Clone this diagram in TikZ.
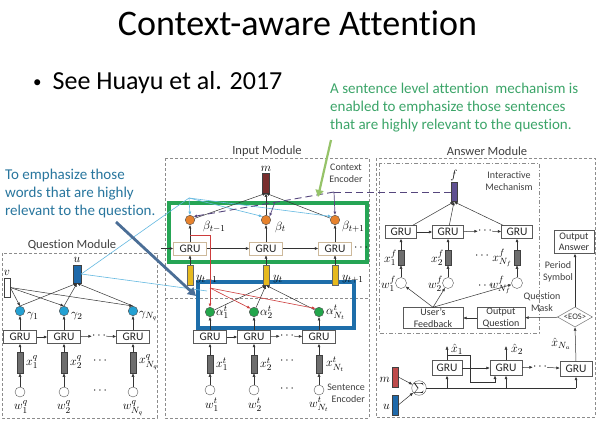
\documentclass[tikz,border=0pt]{standalone}
\usepackage{fontspec}
\setmainfont{Carlito}[Ligatures=NoCommon]
\usetikzlibrary{arrows.meta,shapes.geometric,calc}
\definecolor{gboxc}{RGB}{38,165,85}
\definecolor{bboxc}{RGB}{30,110,170}
\definecolor{gtext}{RGB}{60,165,105}
\definecolor{btext}{RGB}{40,118,158}
\definecolor{barrow}{RGB}{75,110,150}
\definecolor{garrow}{RGB}{150,195,105}
\definecolor{lblue}{RGB}{100,185,225}
\definecolor{redl}{RGB}{205,60,60}
\definecolor{purl}{RGB}{85,70,125}
\definecolor{gammac}{RGB}{35,160,210}
\definecolor{betac}{RGB}{230,130,45}
\definecolor{alphac}{RGB}{35,165,75}
\definecolor{goldc}{RGB}{230,185,30}
\definecolor{greyc}{RGB}{110,110,110}
\definecolor{maroonc}{RGB}{120,45,45}
\definecolor{redv}{RGB}{190,75,75}
\definecolor{bluev}{RGB}{30,105,170}
\definecolor{purv}{RGB}{95,80,145}
\definecolor{beige}{RGB}{205,185,155}
\begin{document}
\begin{tikzpicture}[x=1pt,y=-1pt,
  arr/.style={-{Latex[length=3.5pt,width=3pt]}, line width=0.5pt, draw=black!80},
  modbox/.style={draw=black!45, dash pattern=on 3pt off 2pt, line width=0.6pt},
  gru/.style={draw=black!65, fill=white, minimum width=33pt, minimum height=13pt, inner sep=0pt, font=\fontsize{11.5}{11.5}\selectfont, text=black!85},
  grubeige/.style={gru, draw=beige},
  vecbox/.style={draw=black!75, line width=0.5pt, minimum width=6pt, minimum height=20pt, inner sep=0pt},
  attc/.style={circle, draw=black!70, line width=0.4pt, minimum size=9.5pt, inner sep=0pt},
  wc/.style={circle, draw=black!65, fill=white, minimum size=10pt, inner sep=0pt},
  ml/.style={font=\fontsize{12.5}{12.5}\selectfont, inner sep=0pt},
  smalltxt/.style={font=\fontsize{10}{12}\selectfont, align=center, text=black!75, inner sep=0pt},
  modlab/.style={font=\fontsize{12.5}{12.5}\selectfont, text=black!75, inner sep=0pt},
  boxtxt/.style={draw=black!65, fill=white, font=\fontsize{10}{11.5}\selectfont, align=center, inner sep=0pt, text=black!80},
  gtxt/.style={font=\fontsize{15}{15}\selectfont, text=gtext, inner sep=0pt, anchor=base west},
  btxt/.style={font=\fontsize{15}{15}\selectfont, text=btext, inner sep=0pt, anchor=base west},
]
\useasboundingbox (0,0) rectangle (600,423);
\fill[white] (0,0) rectangle (600,423);

% ---------- title and texts
\node[font=\fontsize{36}{38}\selectfont, anchor=base, inner sep=0pt] (title) at (297.5,35) {Context-aware Attention};
\node[font=\fontsize{26}{28}\selectfont, anchor=base west, inner sep=0pt] (bul) at (33,89) {{\fontsize{17}{17}\selectfont\raisebox{2pt}{•}}\hspace{11pt}See Huayu et al. 2017};
\node[gtxt] (gt1) at (330,93) {A sentence level attention\ \ mechanism is};
\node[gtxt] (gt2) at (330,111) {enabled to emphasize those sentences};
\node[gtxt] (gt3) at (330,129) {that are highly relevant to the question.};
\node[btxt] (bt1) at (5,179) {To emphasize those};
\node[btxt] (bt2) at (5,197) {words that are highly};
\node[btxt] (bt3) at (5,215) {relevant to the question.};

% ---------- module frames
\node[modlab] (qml) at (72,245) {Question Module};
\draw[modbox] (2,253) rectangle (157,418);
\node[modlab] (iml) at (267,151) {Input Module};
\draw[modbox] (165,158) rectangle (369,418);
\draw[modbox] (165,298) -- (369,298);
\node[modlab] (aml) at (487,151) {Answer Module};
\draw[modbox] (376,158) rectangle (595,417);
\draw[draw=black!45, dash pattern=on 4pt off 2pt on 1pt off 2pt, line width=0.6pt] (379,163) rectangle (539,333);
\node[smalltxt] (cel) at (346,173) {Context\\Encoder};
\node[smalltxt, align=right, anchor=east] (sel) at (365,393) {Sentence\\Encoder};
\node[smalltxt] (imech) at (509,181) {Interactive\\Mechanism};

% ---------- highlight boxes
\draw[gboxc, line width=3.5pt] (169,203) rectangle (367,262);
\draw[bboxc, line width=3.5pt] (198,282) rectangle (354,328);

% ---------- question module
\node[vecbox, fill=white, minimum height=19pt] (v) at (7,287.5) {};
\node[ml, anchor=south] (vl) at (7,276) {$v$};
\node[vecbox, fill=bluev, minimum width=8pt, minimum height=18pt] (uq) at (77,274) {};
\node[ml, anchor=south] (uql) at (77,263) {$u$};
\foreach \i/\x in {1/20,2/64,3/133} {
  \node[attc, fill=gammac] (g\i) at (\x,311) {};
  \node[gru] (qg\i) at (\x,337) {GRU};
  \node[vecbox, fill=greyc, minimum height=21pt] (qx\i) at (\x,362.5) {};
  \node[wc] (qw\i) at (\x,392) {};
  \draw[arr] (qw\i) -- (qx\i);
  \draw[arr] (qx\i) -- (qg\i);
  \draw[arr] (qg\i) -- (g\i);
  \draw[arr] (v.east) -- (g\i.north);
  \draw[arr] (g\i.north) -- (uq.south);
}
\node[ml, anchor=west] (gl1) at (27,316) {$\gamma_1$};
\node[ml, anchor=west] (gl2) at (71,316) {$\gamma_2$};
\node[ml, anchor=west] (gl3) at (139,316) {$\gamma_{N_q}$};
\node[ml, anchor=west] (qxl1) at (26,362) {$x_1^q$};
\node[ml, anchor=west] (qxl2) at (70,362) {$x_2^q$};
\node[ml, anchor=west] (qxl3) at (139,362) {$x_{N_q}^q$};
\node[ml, anchor=north] (qwl1) at (21,400) {$w_1^q$};
\node[ml, anchor=north] (qwl2) at (64,400) {$w_2^q$};
\node[ml, anchor=north] (qwl3) at (133,400) {$w_{N_q}^q$};
\node[ml] (qd1) at (99,336) {$\cdots$};
\node[ml] (qd2) at (100,361) {$\cdots$};
\node[ml] (qd3) at (100,391) {$\cdots$};
\draw[arr] (qg1) -- (qg2);
\draw[arr] (qg2) -- (qd1);
\draw[arr] (qd1) -- (qg3);

% ---------- input module: context encoder
\node[vecbox, fill=maroonc, minimum width=7pt] (mc) at (266,183) {};
\node[ml, anchor=south] (mcl) at (266,172) {$m$};
\foreach \i/\x in {1/190,2/266,3/335} {
  \node[attc, fill=betac] (b\i) at (\x,220) {};
  \node[grubeige] (cg\i) at (\x,248.5) {GRU};
  \node[vecbox, fill=goldc, draw=black!60] (y\i) at (\x,275) {};
  \draw[arr] (y\i) -- (cg\i);
  \draw[arr] (cg\i) -- (b\i);
  \draw[arr] (b\i) -- (mc.south);
}
\node[ml, anchor=west] (bl1) at (203,227) {$\beta_{t-1}$};
\node[ml, anchor=west] (bl2) at (275,227) {$\beta_{t}$};
\node[ml, anchor=west] (bl3) at (342,227) {$\beta_{t+1}$};
\node[ml, anchor=west] (yl1) at (196,279) {$y_{t-1}$};
\node[ml, anchor=west] (yl2) at (273,279) {$y_{t}$};
\node[ml, anchor=west] (yl3) at (342,279) {$y_{t+1}$};
\coordinate (cin) at (161,248.5);
\draw[arr] (cin) -- (cg1);
\draw[arr] (cg1) -- (cg2);
\draw[arr] (cg2) -- (cg3);
\node[ml] (cd) at (361,247.5) {$\cdots$};

% ---------- input module: sentence encoder
\foreach \i/\x in {1/210,2/254,3/319} {
  \node[attc, fill=alphac] (a\i) at (\x,312) {};
  \node[gru] (sg\i) at (\x,337) {GRU};
  \node[vecbox, fill=greyc, minimum height=18pt] (sx\i) at (\x,364) {};
  \node[wc] (sw\i) at (\x,390) {};
  \draw[arr] (sw\i) -- (sx\i);
  \draw[arr] (sx\i) -- (sg\i);
  \draw[arr] (sg\i) -- (a\i);
  \draw[arr] (a\i) -- (y2.south);
}
\node[ml, anchor=west] (al1) at (216,312) {$\alpha_1^t$};
\node[ml, anchor=west] (al2) at (260,312) {$\alpha_2^t$};
\node[ml, anchor=west] (al3) at (326,312) {$\alpha_{N_t}^t$};
\node[ml, anchor=west] (sxl1) at (216,364) {$x_1^t$};
\node[ml, anchor=west] (sxl2) at (260,364) {$x_2^t$};
\node[ml, anchor=west] (sxl3) at (326,364) {$x_{N_t}^t$};
\node[ml, anchor=north] (swl1) at (212,398) {$w_1^t$};
\node[ml, anchor=north] (swl2) at (255,398) {$w_2^t$};
\node[ml, anchor=north] (swl3) at (319,397) {$w_{N_t}^t$};
\node[ml] (sd1) at (287,336) {$\cdots$};
\node[ml] (sd2) at (287,361) {$\cdots$};
\node[ml] (sd3) at (287,389) {$\cdots$};
\draw[arr] (sg1) -- (sg2);
\draw[arr] (sg2) -- (sd1);
\draw[arr] (sd1) -- (sg3);

% red links
\coordinate (r0) at (190,235);
\coordinate (r1) at (210,235);
\coordinate (r2) at (210,288);
\draw[redl, line width=0.6pt] (r0) -- (r1);
\draw[arr, draw=redl, line width=0.6pt] (r1) -- (a1.north);
\draw[arr, draw=redl, line width=0.6pt] (r2) -- (a2.north west);
\draw[arr, draw=redl, line width=0.6pt] (r2) -- (a3.north west);

% light blue links from u
\coordinate (lbj) at (189,198);
\coordinate (lbk) at (207,291);
\draw[lblue, line width=0.6pt] (uq.east) -- (lbj);
\draw[lblue, line width=0.6pt] (uq.east) -- (lbk);
\draw[arr, draw=lblue, line width=0.6pt] (lbj) -- (b1.north);
\draw[arr, draw=lblue, line width=0.6pt] (lbj) -- (b2.north west);
\draw[arr, draw=lblue, line width=0.6pt] (lbj) -- (b3.north west);

% ---------- answer module: interactive mechanism
\node[vecbox, fill=purv, minimum height=19pt] (f) at (454,192) {};
\node[ml, anchor=south] (fl) at (454,181) {$f$};
\foreach \i/\x in {1/401,2/448,3/517} {
  \node[gru, minimum width=31pt] (fg\i) at (\x,232) {GRU};
  \node[vecbox, fill=greyc, minimum height=15pt] (fx\i) at (\x,257.5) {};
  \node[wc, minimum size=11pt] (fw\i) at (\x,283) {};
  \draw[arr] (fw\i) -- (fx\i);
  \draw[arr] (fx\i) -- (fg\i);
  \draw[arr] (fg\i) -- (f.south);
}
\node[ml, anchor=east] (fxl1) at (397,258) {$x_1^f$};
\node[ml, anchor=east] (fxl2) at (444,258) {$x_2^f$};
\node[ml, anchor=east] (fxl3) at (512,258) {$x_{N_f}^f$};
\node[ml, anchor=east] (fwl1) at (396,284) {$w_1^f$};
\node[ml, anchor=east] (fwl2) at (443,284) {$w_2^f$};
\node[ml, anchor=east] (fwl3) at (511,285) {$w_{N_f}^f$};
\node[ml] (fd1) at (485,231) {$\cdots$};
\node[ml] (fd2) at (482,256) {$\cdots$};
\node[ml] (fd3) at (485,286) {$\cdots$};
\draw[arr] (fg1) -- (fg2);
\draw[arr] (fg2) -- (fd1);
\draw[arr] (fd1) -- (fg3);

% purple dashed link f -> betas
\coordinate (fj) at (334,192);
\draw[purl, line width=0.9pt, dash pattern=on 7pt off 4pt] (f.west) -- (fj);
\draw[-{Latex[length=3.5pt,width=3pt]}, purl, line width=0.9pt, dash pattern=on 7pt off 4pt] (fj) -- (b1.north east);
\draw[arr, draw=purl, line width=0.7pt] (fj) -- (b3.north);
\draw[arr, draw=purl, line width=0.7pt] ($(fj)!0.42!(b1.north east)$) -- (b2.north east);

% feedback part
\node[boxtxt, minimum width=60pt, minimum height=21pt] (uf) at (433,318) {User’s\\Feedback};
\node[boxtxt, minimum width=48pt, minimum height=21pt] (oq) at (501,318) {Output\\Question};
\node[diamond, draw=black!65, fill=white, aspect=1.75, minimum width=35pt, minimum height=20pt, inner sep=0pt, font=\fontsize{8.5}{9}\selectfont, text=black!80] (eos) at (575,317) {<EOS>};
\node[boxtxt, minimum width=40pt, minimum height=23pt] (oa) at (574,242) {Output\\Answer};
\node[smalltxt] (qm) at (542,302) {Question\\Mask};
\node[smalltxt] (ps) at (558,272) {Period\\Symbol};
\draw[arr] (eos) -- (oq);
\draw[arr] (oq) -- (uf);
\draw[arr] (eos.north) -- (eos.north |- oa.south);
\draw[arr] (uf.north) -- (fw1);
\draw[arr] (uf.north) -- (fw2);
\draw[arr] (uf.north) -- (fw3);

% ---------- answer module: decoder
\node[gru, minimum width=30pt, minimum height=15pt] (dg1) at (447,368) {GRU};
\node[gru, minimum width=32pt, minimum height=15pt] (dg2) at (506,368) {GRU};
\node[gru, minimum width=32pt, minimum height=15pt] (dg3) at (576,369) {GRU};
\node[vecbox, fill=redv] (ma) at (395,377) {};
\node[vecbox, fill=bluev] (ua) at (395,405) {};
\node[ml, anchor=east] (mal) at (390,380) {$m$};
\node[ml, anchor=east] (ual) at (390,407) {$u$};
\node[circle, draw=black!70, fill=white, minimum size=13pt, inner sep=0pt, font=\fontsize{8}{8}\selectfont] (sig) at (419,388) {$\sum$};
\draw[arr] (ma.east) -- (sig);
\draw[arr] (ua.east) -- (sig);
\coordinate (s1) at (447,388);
\coordinate (s2) at (506,388);
\coordinate (s3) at (576,388);
\draw[black!80, line width=0.5pt] (sig.east) -- (s3);
\draw[arr] (s1) -- (dg1);
\draw[arr] (s2) -- (dg2);
\draw[arr] (s3) -- (dg3);
\node[ml] (dd) at (540,367) {$\cdots$};
\draw[arr] (dg1) -- (dg2);
\draw[arr] (dg2) -- (dd);
\draw[arr] (dd) -- (dg3);
\coordinate (xh1) at (447,346);
\coordinate (xh2) at (506,346);
\draw[arr] (dg1.north) -- (xh1);
\draw[arr] (dg2.north) -- (xh2);
\draw[arr] (dg3.north) -- (eos.south);
\node[ml, anchor=west] (xhl1) at (451,349) {$\hat{x}_1$};
\node[ml, anchor=west] (xhl2) at (511,349) {$\hat{x}_2$};
\node[ml] (xhl3) at (561,344) {$\hat{x}_{N_a}$};
\coordinate (p1) at (447,355);
\coordinate (p2) at (470,382);
\coordinate (p3) at (495,375.5);
\draw[arr] (p1) -| (p2) -| (p3);

% ---------- thick annotation arrows
\coordinate (ba0) at (116,222);
\coordinate (ba1) at (196,296);
\draw[barrow, line width=2.8pt, -{Triangle[length=8pt,width=9pt]}] (ba0) -- (ba1);
\coordinate (ga0) at (331,140);
\coordinate (ga1) at (318,197);
\draw[garrow, line width=2.2pt, -{Triangle[length=7pt,width=8pt]}] (ga0) -- (ga1);
\end{tikzpicture}
\end{document}
